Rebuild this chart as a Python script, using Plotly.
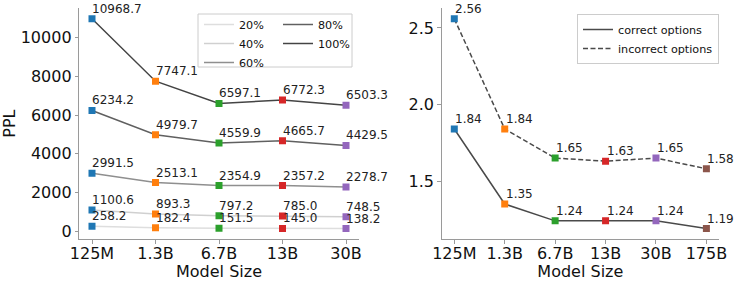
import plotly.graph_objects as go

# ---- data ----
left_sizes = ["125M", "1.3B", "6.7B", "13B", "30B"]
ppl_100 = [10968.7, 7747.1, 6597.1, 6772.3, 6503.3]
ppl_80 = [6234.2, 4979.7, 4559.9, 4665.7, 4429.5]
ppl_60 = [2991.5, 2513.1, 2354.9, 2357.2, 2278.7]
ppl_40 = [1100.6, 893.3, 797.2, 785.0, 748.5]
ppl_20 = [258.2, 182.4, 151.5, 145.0, 138.2]

right_sizes = ["125M", "1.3B", "6.7B", "13B", "30B", "175B"]
correct_opts = [1.84, 1.35, 1.24, 1.24, 1.24, 1.19]
incorrect_opts = [2.56, 1.84, 1.65, 1.63, 1.65, 1.58]

point_colors = ["#1f77b4", "#ff7f0e", "#2ca02c", "#d62728", "#9467bd", "#8c564b"]
FONT = "DejaVu Sans"

W, H = 736, 281
def fx(p):
    return p / W
def fy(p):
    return 1 - p / H

fig = go.Figure()

left_series = [
    ("20%", ppl_20, "#dedede", "legend"),
    ("40%", ppl_40, "#d0d0d0", "legend"),
    ("60%", ppl_60, "#8f8f8f", "legend"),
    ("80%", ppl_80, "#606060", "legend3"),
    ("100%", ppl_100, "#444444", "legend3"),
]
for name, vals, col, lg in left_series:
    fig.add_trace(go.Scatter(
        x=left_sizes, y=vals, mode="lines", name=name,
        line=dict(color=col, width=1.5), legend=lg,
        xaxis="x", yaxis="y"))
for name, vals, col, lg in left_series:
    fig.add_trace(go.Scatter(
        x=left_sizes, y=vals, mode="markers", showlegend=False,
        marker=dict(symbol="square", size=7, color=point_colors[:len(vals)]),
        xaxis="x", yaxis="y", hoverinfo="skip"))
    for xc, v in zip(left_sizes, vals):
        fig.add_annotation(x=xc, y=v, xref="x", yref="y", text=f"{v:.1f}",
                           showarrow=False, xanchor="left", yanchor="bottom",
                           xshift=-2, yshift=1,
                           font=dict(family=FONT, size=12, color="#222"))

right_series = [
    ("correct options", correct_opts, "solid"),
    ("incorrect options", incorrect_opts, "5px,2.5px"),
]
for name, vals, dash in right_series:
    fig.add_trace(go.Scatter(
        x=right_sizes, y=vals, mode="lines", name=name,
        line=dict(color="#4a4a4a", width=1.5, dash=dash), legend="legend2",
        xaxis="x2", yaxis="y2"))
for name, vals, dash in right_series:
    fig.add_trace(go.Scatter(
        x=right_sizes, y=vals, mode="markers", showlegend=False,
        marker=dict(symbol="square", size=7, color=point_colors[:len(vals)]),
        xaxis="x2", yaxis="y2", hoverinfo="skip"))
    for xc, v in zip(right_sizes, vals):
        fig.add_annotation(x=xc, y=v, xref="x2", yref="y2", text=f"{v:.2f}",
                           showarrow=False, xanchor="left", yanchor="bottom",
                           xshift=-1, yshift=1,
                           font=dict(family=FONT, size=12, color="#222"))

axis_common = dict(showline=True, linecolor="#9a9a9a", linewidth=1,
                   ticks="outside", ticklen=3.5, tickcolor="#9a9a9a",
                   showgrid=False, zeroline=False, automargin=False,
                   tickfont=dict(family=FONT, size=16, color="#111"))

legend_font = dict(family=FONT, size=11.2, color="#111")

# frame around the two-column legend of the left panel
fig.add_shape(type="rect", xref="paper", yref="paper",
              x0=fx(198), x1=fx(352), y0=fy(67), y1=fy(14),
              line=dict(color="#cccccc", width=1), fillcolor="white",
              layer="above")

fig.update_layout(
    width=W, height=H, margin=dict(l=0, r=0, t=0, b=0),
    plot_bgcolor="white", paper_bgcolor="white",
    font=dict(family=FONT, color="#111"),
    xaxis=dict(domain=[fx(79.3), fx(358.7)], type="category", range=[-0.2, 4.2],
               anchor="y", ticklabelstandoff=-4,
               title=dict(text="Model Size", font=dict(family=FONT, size=16), standoff=7),
               **axis_common),
    yaxis=dict(domain=[fy(239), fy(8.3)], range=[-403, 11510], anchor="x",
               tickvals=[0, 2000, 4000, 6000, 8000, 10000], tickformat="d",
               title=dict(text="PPL", font=dict(family=FONT, size=16), standoff=4),
               **axis_common),
    xaxis2=dict(domain=[fx(441.7), fx(719)], type="category", range=[-0.25, 5.25],
                anchor="y2", ticklabelstandoff=-4,
                title=dict(text="Model Size", font=dict(family=FONT, size=16), standoff=7),
                **axis_common),
    yaxis2=dict(domain=[fy(239), fy(8.3)], range=[1.1215, 2.6285], anchor="x2",
                tickvals=[1.5, 2.0, 2.5], tickformat=".1f",
                **axis_common),
    legend=dict(x=fx(199), y=fy(10), xanchor="left", yanchor="top",
                orientation="v", itemwidth=30,
                bgcolor="rgba(0,0,0,0)", borderwidth=0, font=legend_font),
    legend3=dict(x=fx(278), y=fy(10), xanchor="left", yanchor="top",
                 orientation="v", itemwidth=30,
                 bgcolor="rgba(0,0,0,0)", borderwidth=0, font=legend_font),
    legend2=dict(x=fx(577), y=fy(14), xanchor="left", yanchor="top",
                 orientation="v", itemwidth=30,
                 bgcolor="white", bordercolor="#cccccc", borderwidth=1,
                 font=legend_font),
)

fig.write_html("out.html", config={"displayModeBar": False},
               post_script="document.body.style.margin='0';")
